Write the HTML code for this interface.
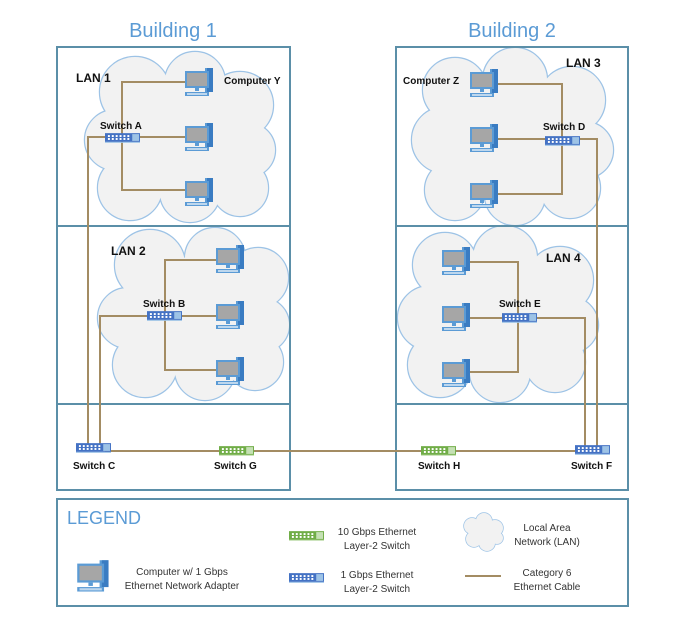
<!DOCTYPE html>
<html><head><meta charset="utf-8"><style>
html,body{margin:0;padding:0;background:#fff;}
svg{display:block;}
text{font-family:"Liberation Sans",sans-serif;}
.b{font-weight:bold;font-size:10px;fill:#111;}
.l{font-weight:bold;font-size:12px;fill:#111;}
.g{font-size:10px;fill:#333;}
</style></head><body>
<svg width="696" height="619" viewBox="0 0 696 619" xmlns="http://www.w3.org/2000/svg">
<defs>
<symbol id="pc" viewBox="0 0 34 30">
<rect x="22" y="0" width="8" height="24" fill="#5b9bd5"/>
<rect x="24" y="0" width="6" height="24" fill="#3a7cc2"/>
<rect x="2" y="3" width="24" height="17" fill="#5b9bd5"/>
<rect x="4" y="5" width="20" height="13" fill="#a6a6a6"/>
<rect x="12" y="20" width="4" height="3" fill="#5b9bd5"/>
<rect x="2" y="24" width="24" height="4" fill="#5b9bd5"/>
<rect x="4" y="25" width="20" height="2" fill="#bdd7ee"/>
</symbol>
<symbol id="sb" viewBox="0 0 36 10">
<rect x="0" y="0" width="36" height="9" fill="#4472c4"/>
<rect x="28" y="1" width="7" height="7" fill="#9dc3e6"/>
<g fill="#fff"><rect x="3" y="2" width="2" height="2"/><rect x="7" y="2" width="2" height="2"/><rect x="11" y="2" width="2" height="2"/><rect x="15" y="2" width="2" height="2"/><rect x="19" y="2" width="2" height="2"/><rect x="23" y="2" width="2" height="2"/><rect x="3" y="5" width="2" height="2"/><rect x="7" y="5" width="2" height="2"/><rect x="11" y="5" width="2" height="2"/><rect x="15" y="5" width="2" height="2"/><rect x="19" y="5" width="2" height="2"/><rect x="23" y="5" width="2" height="2"/></g>
<rect x="0" y="9" width="36" height="1" fill="#9dc3e6"/>
</symbol>
<symbol id="sg" viewBox="0 0 36 10">
<rect x="0" y="0" width="36" height="9" fill="#70ad47"/>
<rect x="28" y="1" width="7" height="7" fill="#c5e0b4"/>
<g fill="#fff"><rect x="3" y="2" width="2" height="2"/><rect x="7" y="2" width="2" height="2"/><rect x="11" y="2" width="2" height="2"/><rect x="15" y="2" width="2" height="2"/><rect x="19" y="2" width="2" height="2"/><rect x="23" y="2" width="2" height="2"/><rect x="3" y="5" width="2" height="2"/><rect x="7" y="5" width="2" height="2"/><rect x="11" y="5" width="2" height="2"/><rect x="15" y="5" width="2" height="2"/><rect x="19" y="5" width="2" height="2"/><rect x="23" y="5" width="2" height="2"/></g>
<rect x="0" y="9" width="36" height="1" fill="#c5e0b4"/>
</symbol>
</defs>

<text x="173" y="37" text-anchor="middle" style="font-size:20px;fill:#5b9bd5">Building 1</text>
<text x="512" y="37" text-anchor="middle" style="font-size:20px;fill:#5b9bd5">Building 2</text>

<!-- clouds: outline pass then fill pass -->
<g stroke="#9dc3e6" stroke-width="2.4" fill="#f2f2f2">
<g id="c1"><circle cx="135" cy="92" r="35"/><circle cx="195" cy="82" r="30"/><circle cx="240" cy="105" r="33"/><circle cx="115" cy="140" r="30"/><circle cx="248" cy="150" r="27"/><circle cx="130" cy="188" r="32"/><circle cx="190" cy="192" r="30"/><circle cx="240" cy="188" r="28"/></g>
<g id="c2"><circle cx="150" cy="265" r="35"/><circle cx="215" cy="258" r="30"/><circle cx="258" cy="278" r="30"/><circle cx="128" cy="318" r="30"/><circle cx="262" cy="325" r="27"/><circle cx="145" cy="365" r="32"/><circle cx="205" cy="370" r="30"/><circle cx="255" cy="362" r="28"/></g>
<g id="c3"><circle cx="455" cy="90" r="32"/><circle cx="515" cy="80" r="32"/><circle cx="572" cy="100" r="33"/><circle cx="445" cy="140" r="33"/><circle cx="585" cy="150" r="28"/><circle cx="455" cy="190" r="30"/><circle cx="515" cy="195" r="30"/><circle cx="570" cy="188" r="30"/></g>
<g id="c4"><circle cx="445" cy="265" r="32"/><circle cx="505" cy="258" r="32"/><circle cx="560" cy="280" r="33"/><circle cx="430" cy="318" r="32"/><circle cx="570" cy="325" r="28"/><circle cx="440" cy="365" r="32"/><circle cx="500" cy="372" r="30"/><circle cx="555" cy="362" r="30"/></g>
</g>
<g fill="#f2f2f2" stroke="none">
<use href="#c1"/><use href="#c2"/><use href="#c3"/><use href="#c4"/>
<ellipse cx="180" cy="138" rx="70" ry="60"/><ellipse cx="195" cy="315" rx="70" ry="58"/><ellipse cx="512" cy="138" rx="70" ry="60"/><ellipse cx="498" cy="318" rx="70" ry="58"/>
</g>

<!-- building boxes -->
<g fill="none" stroke="#5b8fa8" stroke-width="2">
<rect x="57" y="47" width="233" height="443"/>
<line x1="57" y1="226" x2="290" y2="226"/><line x1="57" y1="404" x2="290" y2="404"/>
<rect x="396" y="47" width="232" height="443"/>
<line x1="396" y1="226" x2="628" y2="226"/><line x1="396" y1="404" x2="628" y2="404"/>
<rect x="57" y="499" width="571" height="107"/>
</g>

<!-- cables -->
<g fill="none" stroke="#a38c63" stroke-width="2">
<polyline points="200,82 122,82 122,190 200,190"/><line x1="122" y1="137" x2="200" y2="137"/>
<polyline points="88,450 88,137 110,137"/>
<polyline points="232,260 165,260 165,370 232,370"/><line x1="165" y1="316" x2="232" y2="316"/>
<polyline points="100,450 100,316 160,316"/>
<polyline points="480,84 562,84 562,194 480,194"/><line x1="480" y1="139" x2="562" y2="139"/>
<polyline points="575,139 597,139 597,450"/>
<polyline points="460,262 518,262 518,372 460,372"/><line x1="460" y1="318" x2="518" y2="318"/>
<polyline points="530,318 585,318 585,450"/>
<line x1="105" y1="451" x2="595" y2="451"/>
<line x1="465" y1="576" x2="501" y2="576"/>
</g>

<!-- computers -->
<use href="#pc" x="183" y="68" width="34" height="30"/>
<use href="#pc" x="183" y="123" width="34" height="30"/>
<use href="#pc" x="183" y="178" width="34" height="30"/>
<use href="#pc" x="214" y="245" width="34" height="30"/>
<use href="#pc" x="214" y="301" width="34" height="30"/>
<use href="#pc" x="214" y="357" width="34" height="30"/>
<use href="#pc" x="468" y="69" width="34" height="30"/>
<use href="#pc" x="468" y="124" width="34" height="30"/>
<use href="#pc" x="468" y="180" width="34" height="30"/>
<use href="#pc" x="440" y="247" width="34" height="30"/>
<use href="#pc" x="440" y="303" width="34" height="30"/>
<use href="#pc" x="440" y="359" width="34" height="30"/>
<use href="#pc" x="75" y="560" width="38" height="34"/>

<!-- switches -->
<use href="#sb" x="105" y="133" width="35" height="10"/>
<use href="#sb" x="147" y="311" width="35" height="10"/>
<use href="#sb" x="545" y="136" width="35" height="10"/>
<use href="#sb" x="502" y="313" width="35" height="10"/>
<use href="#sb" x="76" y="443" width="35" height="10"/>
<use href="#sb" x="575" y="445" width="35" height="10"/>
<use href="#sg" x="219" y="446" width="35" height="10"/>
<use href="#sg" x="421" y="446" width="35" height="10"/>
<use href="#sg" x="289" y="531" width="35" height="10"/>
<use href="#sb" x="289" y="573" width="35" height="10"/>

<!-- legend cloud -->
<g stroke="#9dc3e6" stroke-width="1.5" fill="#f2f2f2">
<g id="lc"><circle cx="472" cy="526" r="8"/><circle cx="484" cy="521" r="8"/><circle cx="495" cy="528" r="8"/><circle cx="474" cy="539" r="8"/><circle cx="487" cy="543" r="8"/><circle cx="497" cy="538" r="6"/></g>
</g>
<g fill="#f2f2f2"><use href="#lc" style="stroke:none"/><ellipse cx="484" cy="532" rx="13" ry="10"/></g>

<!-- labels -->
<text class="l" x="76" y="82">LAN 1</text>
<text class="b" x="224" y="84">Computer Y</text>
<text class="b" x="100" y="129">Switch A</text>
<text class="l" x="111" y="255">LAN 2</text>
<text class="b" x="143" y="307">Switch B</text>
<text class="l" x="566" y="67">LAN 3</text>
<text class="b" x="403" y="84">Computer Z</text>
<text class="b" x="543" y="130">Switch D</text>
<text class="l" x="546" y="262">LAN 4</text>
<text class="b" x="499" y="307">Switch E</text>
<text class="b" x="73" y="469">Switch C</text>
<text class="b" x="214" y="469">Switch G</text>
<text class="b" x="418" y="469">Switch H</text>
<text class="b" x="571" y="469">Switch F</text>

<text x="67" y="524" style="font-size:18px;fill:#5b9bd5">LEGEND</text>
<text class="g" x="182" y="575" text-anchor="middle">Computer w/ 1 Gbps</text>
<text class="g" x="182" y="589" text-anchor="middle">Ethernet Network Adapter</text>
<text class="g" x="377" y="535" text-anchor="middle">10 Gbps Ethernet</text>
<text class="g" x="377" y="549" text-anchor="middle">Layer-2 Switch</text>
<text class="g" x="377" y="578" text-anchor="middle">1 Gbps Ethernet</text>
<text class="g" x="377" y="592" text-anchor="middle">Layer-2 Switch</text>
<text class="g" x="547" y="531" text-anchor="middle">Local Area</text>
<text class="g" x="547" y="545" text-anchor="middle">Network (LAN)</text>
<text class="g" x="547" y="576" text-anchor="middle">Category 6</text>
<text class="g" x="547" y="590" text-anchor="middle">Ethernet Cable</text>
</svg>
</body></html>
